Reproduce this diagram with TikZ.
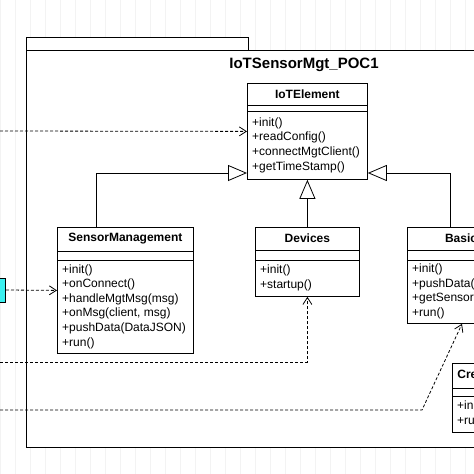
\documentclass[tikz,border=0pt]{standalone}
\usepackage{fontspec}
\setmainfont{Liberation Sans}
\usetikzlibrary{arrows.meta}
\definecolor{devcyan}{RGB}{60,240,240}
\definecolor{gridgray}{RGB}{243,243,243}
% name, nw corner, width, header line, attribute line, height, title, operations
\newcommand{\umlclass}[8]{%
  \node[classbox, minimum width=#3pt, minimum height=#6pt, anchor=north west] (#1) at (#2) {};
  \draw[thin line] ([yshift=-#4pt]#1.north west) -- ([yshift=-#4pt]#1.north east);
  \draw[thin line] ([yshift=-#5pt]#1.north west) -- ([yshift=-#5pt]#1.north east);
  \node[classname] (#1-name) at ([yshift=-#4/2]#1.north) {#7};
  \node[ops, anchor=west] (#1-ops) at ([yshift=-(#5+#6)/2]#1.north west) {#8};
}

\begin{document}
\begin{tikzpicture}[
  x=1pt, y=-1pt,
  thin line/.style={line width=0.8pt},
  classbox/.style={draw, thin line, fill=white, inner sep=0pt},
  classname/.style={font=\bfseries\fontsize{12}{14}\selectfont, inner sep=0pt},
  ops/.style={font=\fontsize{12}{14.6}\selectfont, align=left, inner xsep=5pt, inner ysep=0pt},
  dep/.style={thin line, dash pattern=on 3pt off 2pt, -{Straight Barb[length=7pt, width=9pt]}},
  inherit/.style={thin line, -{Triangle[fill=white, length=19pt, width=16pt]}}
]
\useasboundingbox (0,0) rectangle (474,474);
\clip (0,0) rectangle (474,474);
\fill[white] (0,0) rectangle (474,474);
\draw[gridgray, line width=0.4pt, step=15] (0,0) grid (474,474);

% package
\draw[thin line, fill=white] (26,50) rectangle (490,447);
\draw[thin line, fill=white] (26,37) rectangle (248,50);
\node[font=\bfseries\fontsize{15}{18}\selectfont] (pkgname) at (304,65) {IoTSensorMgt\_POC1};

% classes
\umlclass{elem}{247,83}{120}{22}{28}{96}{IoTElement}
  {+init()\\+readConfig()\\+connectMgtClient()\\+getTimeStamp()}
\umlclass{sensor}{57,227}{136}{24}{33}{126}{SensorManagement}
  {+init()\\+onConnect()\\+handleMgtMsg(msg)\\+onMsg(client, msg)\\+pushData(DataJSON)\\+run()}
\umlclass{devices}{255,227}{104}{23}{33}{69}{Devices}
  {+init()\\+startup()}
\umlclass{basic}{407,227}{148}{23}{33}{96}{BasicSensor}
  {+init()\\+pushData(data)\\+getSensorData()\\+run()}
\umlclass{cred}{452,363}{118}{25}{33}{69}{CredentialManager}
  {+init()\\+run()}

\node[draw, thin line, fill=devcyan, minimum width=20pt, minimum height=24pt, anchor=east] (device) at (6,290) {};

% generalizations
\draw[inherit] ([xshift=39pt]sensor.north west) |- ([yshift=-90pt]elem.north west);
\draw[inherit] (devices.north) -- (elem.south);
\draw[inherit] ([xshift=43pt]basic.north west) |- ([yshift=-90pt]elem.north east);

% dependencies
\coordinate (in1) at (0,131);
\coordinate (in3) at (0,362);
\coordinate (in4) at (0,410);
\coordinate (bend4) at (422,410);
\draw[dep] (in1) -- (elem.west);
\draw[dep] (device.east) -- (sensor.west);
\draw[dep] (in3) -| (devices.south);
\draw[dep] (in4) -- (bend4) -- ([xshift=55pt]basic.south west);
\end{tikzpicture}
\end{document}
